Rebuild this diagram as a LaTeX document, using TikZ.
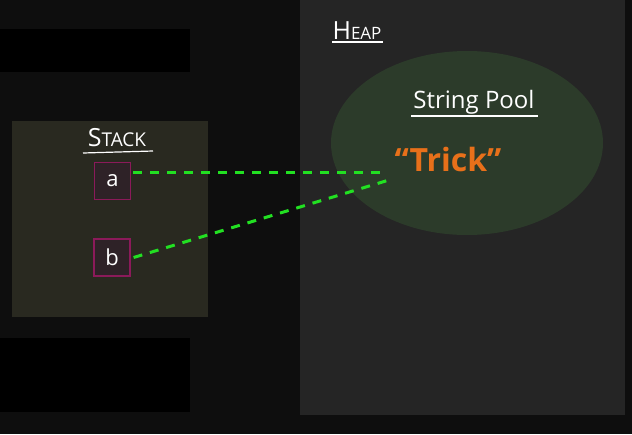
\documentclass[tikz,border=0pt]{standalone}
\usepackage{fontspec}
\setmainfont{Open Sans}
\definecolor{bgc}{HTML}{0E0E0E}
\definecolor{heapc}{HTML}{252525}
\definecolor{stackc}{HTML}{292920}
\definecolor{poolc}{HTML}{2C3B2A}
\definecolor{boxfill}{HTML}{2E2227}
\definecolor{boxline}{HTML}{8B1A5A}
\definecolor{linkc}{HTML}{22E022}
\definecolor{trickc}{HTML}{E8701A}
\begin{document}
\begin{tikzpicture}[x=1pt,y=-1pt,
  varbox/.style={draw=boxline,fill=boxfill,line width=1.2pt,minimum width=36pt,minimum height=37pt,inner sep=0pt,text=white,font=\fontsize{22}{22}\selectfont},
  link/.style={draw=linkc,line width=3pt,dash pattern=on 9pt off 8pt},
  title/.style={text=white,inner sep=0pt}]
\fill[bgc] (0,0) rectangle (632,434);
\useasboundingbox (0,0) rectangle (632,434);
\fill[heapc] (300,0) rectangle (625,415);
\fill[black] (0,29) rectangle (190,72);
\fill[black] (0,338) rectangle (190,412);
\fill[stackc] (12,121) rectangle (208,317);
\fill[poolc] (467,143) ellipse [x radius=136, y radius=92];
% labels
\node[title,anchor=base] (stack) at (117,146) {\fontsize{25}{25}\selectfont S\fontsize{19}{19}\selectfont TACK};
\draw[white,line width=1.2pt] (83,153) -- (153,151);
\node[title,anchor=base] (heap) at (357,39) {\fontsize{25}{25}\selectfont H\fontsize{17}{17}\selectfont EAP};
\draw[white,line width=1.2pt] (332,42) -- (383,42);
\node[title,anchor=base] (pool) at (474,108) {\fontsize{24}{24}\selectfont String Pool};
\draw[white,line width=1.2pt] (411,116) -- (538,116);
\node[inner sep=0pt,text=trickc,anchor=base] (trick) at (448,171) {\fontsize{32}{32}\selectfont\bfseries “Trick”};
% variables
\node[varbox] (a) at (112.5,181) {a};
\node[varbox] (b) at (112,257.5) {b};
\coordinate (ta) at (385,172);
\coordinate (tb) at (389,180);
\draw[link] (a.east |- ta) ++(2,0) -- (ta);
\draw[link] (b.east) ++(3,0) -- (tb);
\end{tikzpicture}
\end{document}
